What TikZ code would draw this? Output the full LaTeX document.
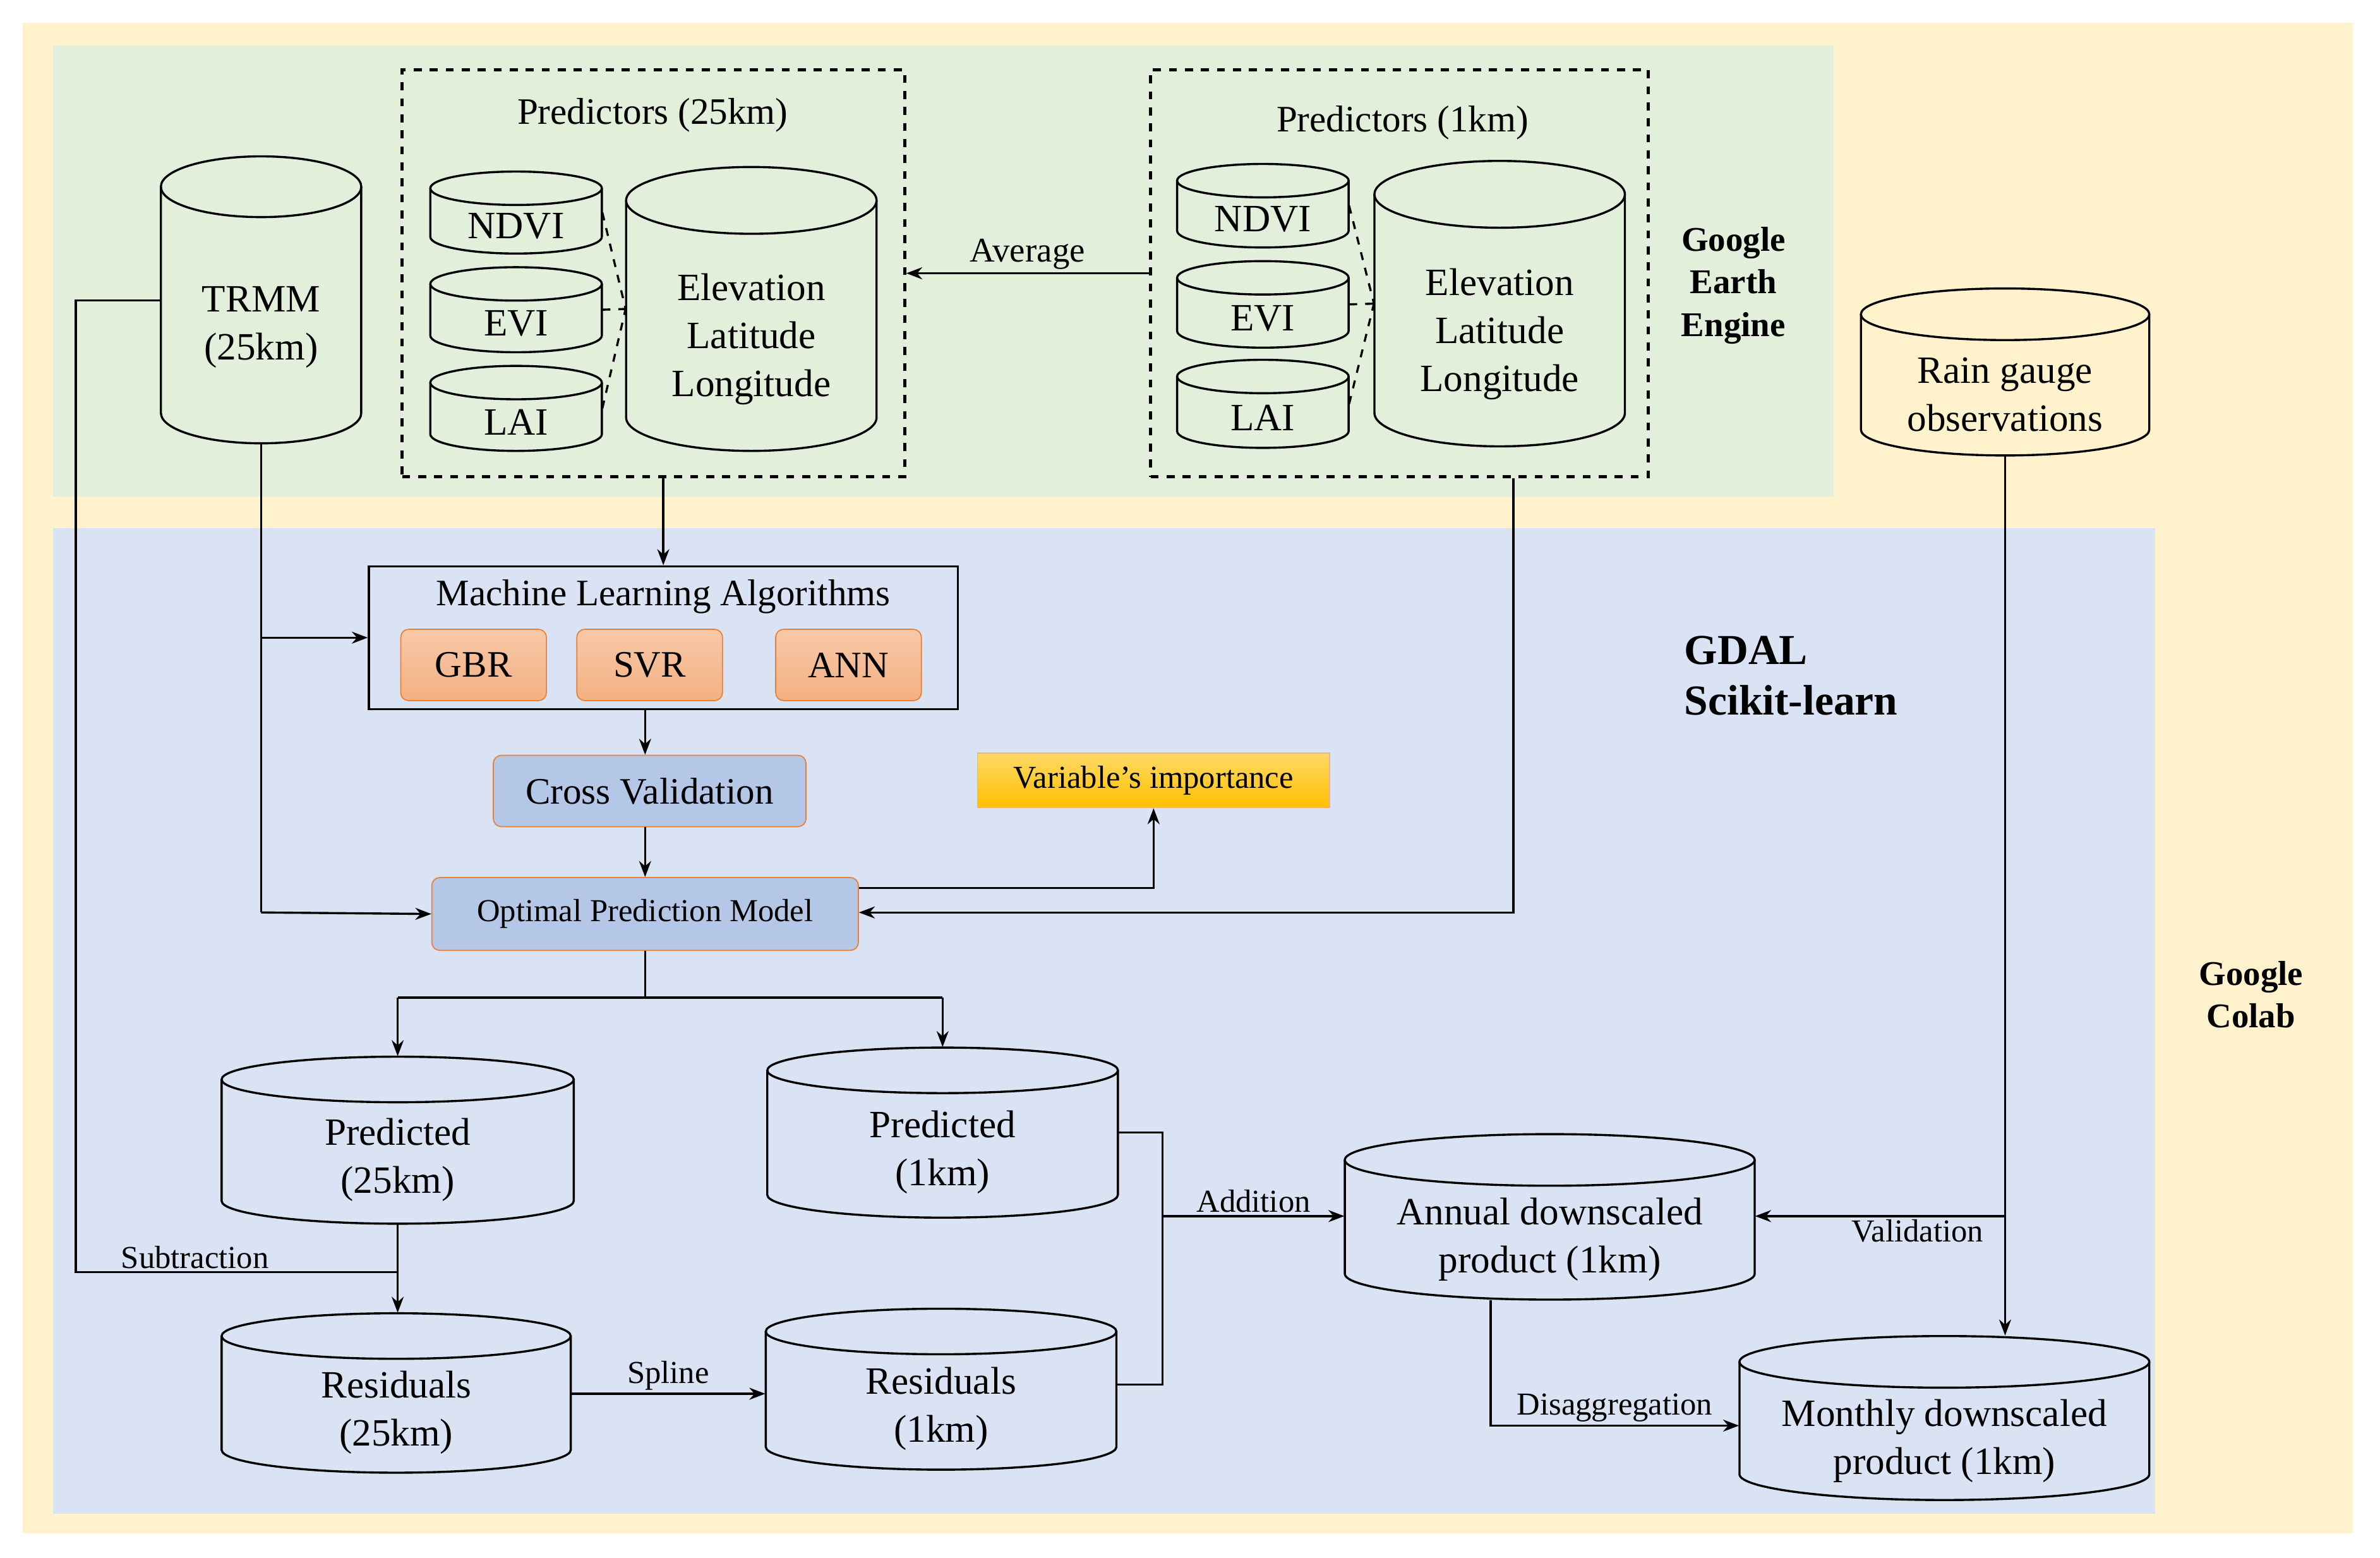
\documentclass[tikz,border=0pt]{standalone}
\usepackage{fontspec}
\setmainfont{Liberation Serif}
\usetikzlibrary{shapes.geometric,arrows.meta}
\definecolor{bgY}{HTML}{FFF2CC}
\definecolor{bgG}{HTML}{E2EFDA}
\definecolor{bgB}{HTML}{DAE3F3}
\definecolor{orB}{HTML}{ED7D31}
\definecolor{orF}{HTML}{F4B183}
\definecolor{blF}{HTML}{B4C7E7}
\definecolor{gold}{HTML}{FFC000}
% name, cx, ytop, ybot, rx, ry, text
\newcommand\mycyl[7]{%
  \draw[thick] (#2,{#3+#6}) ellipse [x radius=#5, y radius=#6];
  \draw[thick] ({#2-#5},{#3+#6}) -- ({#2-#5},{#4-#6}) arc[start angle=180,end angle=0,x radius=#5,y radius=#6] -- ({#2+#5},{#3+#6});
  \node[inner sep=0pt,minimum width={#5*0.04cm},minimum height={(#4-#3)*0.02cm}] (#1) at (#2,{(#3+#4)/2}) {};
  \node[align=center,font=\fontsize{14.5}{18}\selectfont,inner sep=0pt] at (#2,{(#3+2*#6+#4)/2-2}) {#7};}
\begin{document}
\begin{tikzpicture}[x=0.02cm,y=-0.02cm,
  box/.style n args={2}{draw,minimum width=#1*0.02cm,minimum height=#2*0.02cm,inner sep=0pt},
  alg/.style={box={96}{47},rounded corners=3pt,draw=orB,top color=orF!70,bottom color=orF,font=\fontsize{14}{17}\selectfont},
  arr/.style={-{Stealth[length=6pt,width=4.5pt]},thick},
  ln/.style={thick},
  lab/.style={font=\fontsize{12}{14}\selectfont,inner sep=1pt},
  bold/.style={font=\fontsize{13}{16}\selectfont\bfseries,align=center}]
\useasboundingbox (0,0) rectangle (1568,1026);
\fill[bgY] (15,15) rectangle (1550,1010);
\fill[bgG] (35,30) rectangle (1208,327);
\fill[bgB] (35,348) rectangle (1420,997);
% predictor boxes
\node[box={331}{268},dashed,very thick] (p25) at (430.5,180) {};
\node[box={328}{268},dashed,very thick] (p1) at (922,180) {};
\node[font=\fontsize{14}{17}\selectfont] at (430,76) {Predictors (25km)};
\node[font=\fontsize{14}{17}\selectfont] at (924,81) {Predictors (1km)};
\mycyl{n25}{340}{113}{167}{56.5}{11}{NDVI}
\mycyl{e25}{340}{176}{232}{56.5}{11}{EVI}
\mycyl{l25}{340}{241}{297}{56.5}{11}{LAI}
\mycyl{b25}{495}{110}{297}{82.5}{22}{Elevation\\Latitude\\Longitude}
\mycyl{n1}{832}{108}{163}{56.5}{11}{NDVI}
\mycyl{e1}{832}{172}{229}{56.5}{11}{EVI}
\mycyl{l1}{832}{237}{295}{56.5}{11}{LAI}
\mycyl{b1}{988}{106}{294}{82.5}{22}{Elevation\\Latitude\\Longitude}
\foreach \s in {n25,e25,l25}{\draw[dashed,thick] (\s.east) -- (b25.west);}
\foreach \s in {n1,e1,l1}{\draw[dashed,thick] (\s.east) -- (b1.west);}
\mycyl{trmm}{172}{103}{292}{66}{20}{TRMM\\(25km)}
\mycyl{rain}{1321}{190}{300}{95}{17}{Rain gauge\\observations}
\node[bold] at (1142,188) {Google\\Earth\\Engine};
\node[bold,font=\fontsize{16}{19}\selectfont\bfseries,align=left] at (1180,445) {GDAL\\Scikit-learn};
\node[bold] at (1483,655) {Google\\Colab};
% ML
\node[box={388}{94},thick] (ml) at (437,420) {};
\node[font=\fontsize{14}{17}\selectfont] at (437,393) {Machine Learning Algorithms};
\node[alg] (gbr) at (312,438) {GBR};
\node[alg] (svr) at (428,438) {SVR};
\node[alg] (ann) at (559,438) {ANN};
\node[box={206}{47},rounded corners=3pt,draw=orB,fill=blF,font=\fontsize{14}{17}\selectfont] (cv) at (428,521) {Cross Validation};
\node[box={232}{36},draw=orB!60,top color=gold!60,bottom color=gold,font=\fontsize{12}{14}\selectfont] (vi) at (760,514) {Variable’s importance};
\node[box={281}{48},rounded corners=3pt,draw=orB,fill=blF,font=\fontsize{12}{14}\selectfont] (opm) at (425,602) {Optimal Prediction Model};
% bottom cylinders
\mycyl{pr25}{262}{696}{806}{116}{15}{Predicted\\(25km)}
\mycyl{pr1}{621}{690}{802}{115.5}{15}{Predicted\\(1km)}
\mycyl{re25}{261}{865}{970}{115}{15}{Residuals\\(25km)}
\mycyl{re1}{620}{862}{968}{115.5}{15}{Residuals\\(1km)}
\mycyl{ann1}{1021}{747}{856}{135}{17}{Annual downscaled\\product (1km)}
\mycyl{mon}{1281}{880}{988}{135}{17}{Monthly downscaled\\product (1km)}
% connectors
\draw[arr] (p1.west|-0,180) -- node[lab,above,font=\fontsize{13}{16}\selectfont]{Average} (p25.east|-0,180);
\draw[arr] (p25.south-|437,0) -- (ml.north-|437,0);
\draw[ln] (trmm.south) -- (172,601);
\draw[arr] (172,601) -- (opm.west);
\draw[arr] (172,420) -- (ml.west);
\draw[ln] (trmm.west|-0,198) -- (50,198) -- (50,838) -- node[lab,above,pos=0.37]{Subtraction} (262,838);
\draw[arr] (pr25.south) -- (re25.north-|pr25.south);
\draw[arr] (ml.south-|425,0) -- (cv.north-|425,0);
\draw[arr] (cv.south-|425,0) -- (opm.north);
\draw[arr] (opm.east|-0,585) -- (760,585) -- (vi.south);
\draw[arr] (p1.south-|997,0) -- (997,601) -- (opm.east|-0,601);
\draw[ln] (opm.south) -- (425,657);
\draw[ln] (262,657) -- (621,657);
\draw[arr] (262,657) -- (pr25.north);
\draw[arr] (621,657) -- (pr1.north);
\draw[arr] (re25.east|-0,918) -- node[lab,above]{Spline} (re1.west|-0,918);
\draw[ln] (pr1.east|-0,746) -- (766,746) -- (766,912) -- (re1.east|-0,912);
\draw[arr] (766,801) -- node[lab,above]{Addition} (ann1.west|-0,801);
\draw[arr] (rain.south) -- (mon.north-|rain.south);
\draw[arr] (1321,801) -- node[lab,below,pos=0.35]{Validation} (ann1.east|-0,801);
\draw[arr] (ann1.south-|982,0) -- (982,939) -- node[lab,above]{Disaggregation} (mon.west|-0,939);
\end{tikzpicture}
\end{document}
